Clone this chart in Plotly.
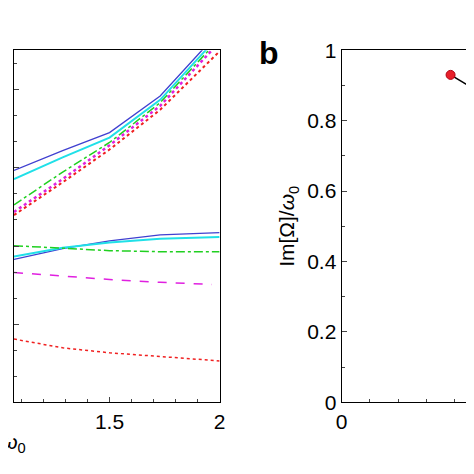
import plotly.graph_objects as go

blue_up_x = [1.066, 1.287, 1.5, 1.73, 1.92, 2.0]
blue_up = [0.659, 0.715, 0.766, 0.870, 1.0, 1.07]
cyan_up_x = [1.066, 1.287, 1.5, 1.73, 1.937, 2.0]
cyan_up = [0.634, 0.696, 0.752, 0.859, 1.0, 1.05]
green_up_x = [1.066, 1.287, 1.5, 1.73, 1.951, 2.0]
green_up = [0.561, 0.654, 0.738, 0.851, 1.0, 1.03]
mag_up_x = [1.066, 1.287, 1.5, 1.73, 1.965, 2.0]
mag_up = [0.541, 0.634, 0.730, 0.842, 1.0, 1.02]
red_up_x = [1.066, 1.287, 1.5, 1.73, 2.0]
red_up = [0.532, 0.625, 0.718, 0.831, 0.997]
lx = [1.066, 1.287, 1.5, 1.73, 2.0]
blue_lo = [0.406, 0.437, 0.459, 0.476, 0.482]
cyan_lo = [0.414, 0.439, 0.454, 0.465, 0.470]
green_lo = [0.445, 0.437, 0.431, 0.428, 0.428]
mag_lo_x = [1.066, 1.287, 1.5, 1.73, 1.965]
mag_lo = [0.369, 0.358, 0.349, 0.341, 0.335]
red_lo = [0.180, 0.155, 0.141, 0.130, 0.118]

b_x = [0.386, 0.476]
b_y = [0.93, 0.887]

fig = go.Figure()
def add(x, y, color, dash, w=1.5):
    fig.add_trace(go.Scatter(x=x, y=y, mode="lines", line=dict(color=color, dash=dash, width=w),
                             xaxis="x", yaxis="y", showlegend=False))
add(blue_up_x, blue_up, "#4040d0", "solid", 1.3)
add(cyan_up_x, cyan_up, "#20e0e8", "solid", 2)
add(green_up_x, green_up, "#20d020", "dashdot")
add(mag_up_x, mag_up, "#e020e0", "dot", 2.5)
add(red_up_x, red_up, "#f02020", "dot", 2)
add(lx, blue_lo, "#4040d0", "solid", 1.3)
add(lx, cyan_lo, "#20e0e8", "solid", 2)
add(lx, green_lo, "#20d020", "dashdot")
add(mag_lo_x, mag_lo, "#e020e0", "dash")
add(lx, red_lo, "#f02020", "dot")

fig.add_trace(go.Scatter(x=b_x, y=b_y, mode="lines", line=dict(color="black", width=1.5),
                         xaxis="x2", yaxis="y2", showlegend=False))
fig.add_trace(go.Scatter(x=b_x[:1], y=b_y[:1], mode="markers",
                         marker=dict(color="#e8202a", size=9, line=dict(color="#b00010", width=1)),
                         xaxis="x2", yaxis="y2", showlegend=False))

font = dict(family="Liberation Sans, Arial", size=21, color="black")
ax = dict(showline=True, mirror=True, linecolor="black", linewidth=1, ticks="inside", ticklen=5,
          showgrid=False, zeroline=False, tickfont=font)
dom = [0.152, 0.933]
fig.update_layout(
    width=474, height=474, margin=dict(l=0, r=0, t=0, b=0),
    plot_bgcolor="white", paper_bgcolor="white",
    xaxis=dict(ax, domain=[0, 0.445], range=[1.066, 2.0], tickvals=[1.5, 2], ticktext=["1.5", "2"],
               minor=dict(dtick=0.1, tick0=0, ticks="inside", ticklen=3)),
    yaxis=dict(ax, domain=dom, range=[0, 1], showticklabels=False, dtick=0.222,
               minor=dict(dtick=0.074, ticks="inside", ticklen=3)),
    xaxis2=dict(ax, domain=[0.709, 1.0], range=[0, 0.476], anchor="y2", tickvals=[0], ticktext=["0"],
                minor=dict(dtick=0.1, tick0=0, ticks="inside", ticklen=3)),
    yaxis2=dict(ax, domain=dom, range=[0, 1], anchor="x2", tickvals=[0, 0.2, 0.4, 0.6, 0.8, 1],
                ticktext=["0", "0.2", "0.4", "0.6", "0.8", "1"],
                minor=dict(dtick=0.1, ticks="inside", ticklen=3),
                title=dict(text="Im[Ω]/<i>ω</i><sub>0</sub>", font=font, standoff=6)),
    annotations=[
        dict(text="<b>b</b>", x=262 / 474, y=1 - 14 / 474, xref="paper", yref="paper", showarrow=False,
             font=dict(family="Liberation Sans, Arial", size=32, color="black")),
        dict(text="<i>ω</i>/<i>ω</i><sub>0</sub>", x=14 / 474, y=1 - 460 / 474, xref="paper", yref="paper",
             xanchor="right", showarrow=False, font=font),
    ],
)
fig.write_html("out.html")
